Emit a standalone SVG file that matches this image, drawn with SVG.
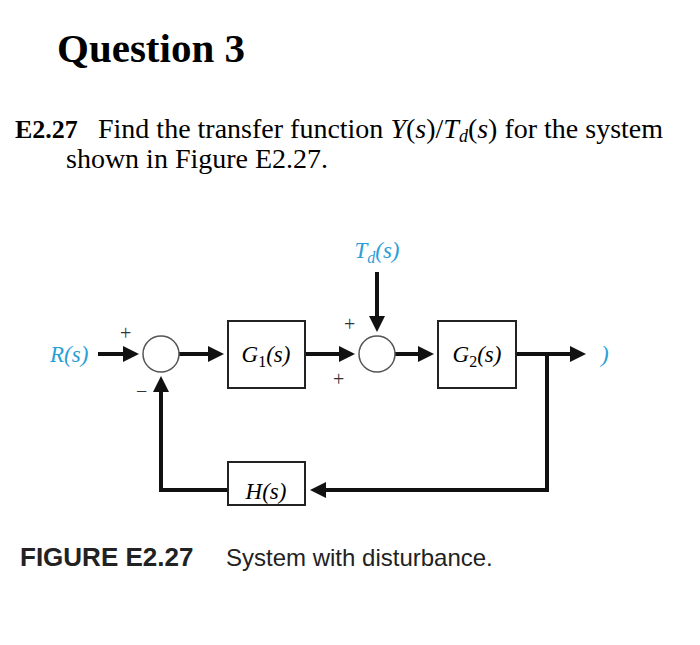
<svg xmlns="http://www.w3.org/2000/svg" width="700" height="645" viewBox="0 0 700 645">
<style>
.s{font-family:"Liberation Serif",serif}
.b{fill:#fff;stroke:#222;stroke-width:2}
.c{fill:#fff;stroke:#555;stroke-width:1.5}
.l{fill:none;stroke:#111;stroke-width:4}
.lab{font-family:"Liberation Serif",serif;font-style:italic;font-size:23px}
.blue{fill:#2a9fd6}
.sg{font-family:"Liberation Serif",serif;font-size:20px;fill:#333}
</style>
<defs><marker id="a" markerWidth="4" markerHeight="4" refX="3" refY="2" orient="auto" markerUnits="strokeWidth"><path d="M0,0L4,2L0,4z" fill="#111"/></marker></defs>
<rect width="700" height="645" fill="#fff"/>
<text class="s" x="57" y="62" font-size="41" font-weight="bold">Question 3</text>
<text class="s" x="15" y="138" font-size="28"><tspan font-weight="bold" font-size="26">E2.27</tspan><tspan x="98">Find the transfer function </tspan><tspan font-style="italic">Y</tspan>(<tspan font-style="italic">s</tspan>)/<tspan font-style="italic">T<tspan font-size="18" dy="4">d</tspan></tspan><tspan dy="-4">(</tspan><tspan font-style="italic">s</tspan>) for the system</text>
<text class="s" x="66" y="168" font-size="28">shown in Figure E2.27.</text>
<g id="connectors">
<path class="l" d="M98,354H135" marker-end="url(#a)"/>
<path class="l" d="M179,354H220" marker-end="url(#a)"/>
<path class="l" d="M305,354H351" marker-end="url(#a)"/>
<path class="l" d="M377,272V328" marker-end="url(#a)"/>
<path class="l" d="M395,354H430" marker-end="url(#a)"/>
<path class="l" d="M516,354H582" marker-end="url(#a)"/>
<path class="l" d="M547,354V490H314" marker-end="url(#a)"/>
<path class="l" d="M228,490H161V380" marker-end="url(#a)"/>
</g>
<g id="sum1"><circle class="c" cx="161" cy="354" r="18"/><text class="sg" x="120" y="340">+</text><text class="sg" x="136" y="398">−</text></g>
<g id="G1"><rect class="b" x="228" y="321" width="77" height="67"/><text class="lab" x="266" y="362" text-anchor="middle">G<tspan font-style="normal" font-size="16" dy="5">1</tspan><tspan dy="-5">(s)</tspan></text></g>
<g id="sum2"><circle class="c" cx="377" cy="354" r="18"/><text class="sg" x="344" y="331">+</text><text class="sg" x="333" y="386">+</text></g>
<g id="G2"><rect class="b" x="438" y="321" width="78" height="67"/><text class="lab" x="477" y="362" text-anchor="middle">G<tspan font-style="normal" font-size="16" dy="5">2</tspan><tspan dy="-5">(s)</tspan></text></g>
<g id="H"><rect class="b" x="228" y="462" width="77" height="43"/><text class="lab" x="266" y="499" text-anchor="middle">H(s)</text></g>
<g id="R"><text class="lab blue" x="50" y="362">R(s)</text></g>
<g id="Td"><text class="lab blue" x="377" y="258" text-anchor="middle">T<tspan font-size="16" dy="5">d</tspan><tspan dy="-5">(s)</tspan></text></g>
<g id="Y"><text class="lab blue" x="601" y="362">)</text></g>
<text x="20" y="566" font-family="Liberation Sans,sans-serif" font-size="24" fill="#222"><tspan font-weight="bold" font-size="26">FIGURE E2.27</tspan><tspan x="226">System with disturbance.</tspan></text>
</svg>
